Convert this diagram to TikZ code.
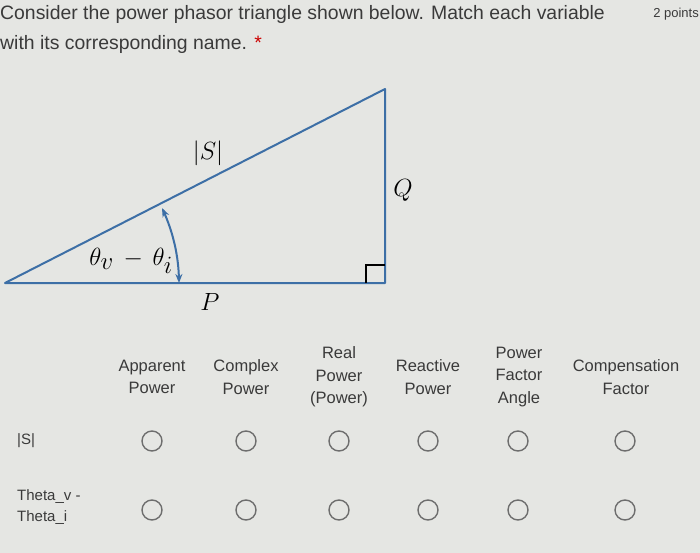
\documentclass[tikz,border=0pt]{standalone}
\usepackage{fontspec}
\setmainfont{Liberation Sans}
\usetikzlibrary{arrows.meta,calc}
\definecolor{bg}{HTML}{E5E6E3}
\definecolor{tri}{HTML}{3D6FA6}
\definecolor{txt}{HTML}{3A3A3A}
\definecolor{rad}{HTML}{6E6E6E}
\tikzset{
  hdr/.style={align=center,font=\fontsize{16.5}{22.5}\selectfont,text=txt,inner sep=0},
  radio/.style={circle,draw=rad,line width=1.4pt,minimum size=20pt,inner sep=0},
  rowlbl/.style={anchor=west,align=left,font=\fontsize{15}{21}\selectfont,text=txt,inner sep=0},
  side/.style={draw=tri,line width=2pt},
  mlbl/.style={inner sep=0,font=\fontsize{26}{28}\selectfont}
}
\begin{document}
\begin{tikzpicture}[x=1pt,y=-1pt]
\fill[bg] (0,0) rectangle (700,553);
\useasboundingbox (0,0) rectangle (700,553);
% title
\node[anchor=base west,inner sep=0,font=\fontsize{19.4}{22}\selectfont,text=txt] (t1) at (0,20) {Consider the power phasor triangle shown below. Match each variable};
\node[anchor=base west,inner sep=0,font=\fontsize{19.4}{22}\selectfont,text=txt] (t2) at (0,50) {with its corresponding name. \textcolor{red!80!black}{*}};
\node[anchor=base east,inner sep=0,font=\fontsize{13}{16}\selectfont,text=txt] (pts) at (699,18) {2 points};
% triangle
\coordinate (A) at (5,283);
\coordinate (B) at (385,283);
\coordinate (C) at (385,89);
\draw[side,line join=round] (A) -- (B) -- (C) -- cycle;
\draw[black,line width=1.6pt] (366,283) -- (366,265) -- (385,265);
\draw[tri,line width=2pt,{Stealth[length=9pt,width=7pt]}-{Stealth[length=9pt,width=7pt]}]
  plot[smooth,samples=20,domain=0:25.5] ({5+174*cos(\x)},{283-174*sin(\x)});
\node[mlbl] (S) at (208,153) {$|S|$};
\node[mlbl] (Q) at (403,190) {$Q$};
\node[mlbl] (P) at (210,302) {$P$};
\node[inner sep=0,font=\fontsize{33}{35}\selectfont] (th) at (131,261) {$\theta_v \,-\, \theta_i$};
% headers
\node[hdr] (h1) at (152,377) {Apparent\\Power};
\node[hdr] (h2) at (246,377) {Complex\\Power};
\node[hdr] (h3) at (339,377) {Real\\Power\\(Power)};
\node[hdr] (h4) at (428,377) {Reactive\\Power};
\node[hdr] (h5) at (519,377) {Power\\Factor\\Angle};
\node[hdr] (h6) at (626,377) {Compensation\\Factor};
% rows
\node[rowlbl] (r1) at (17,441) {|S|};
\node[rowlbl] (r2) at (17,507) {Theta\_v -\\Theta\_i};
\foreach \x [count=\i] in {152,246,339,428,518,625}{
  \node[radio] (a\i) at (\x,441) {};
  \node[radio] (b\i) at (\x,510) {};
}
\end{tikzpicture}
\end{document}
